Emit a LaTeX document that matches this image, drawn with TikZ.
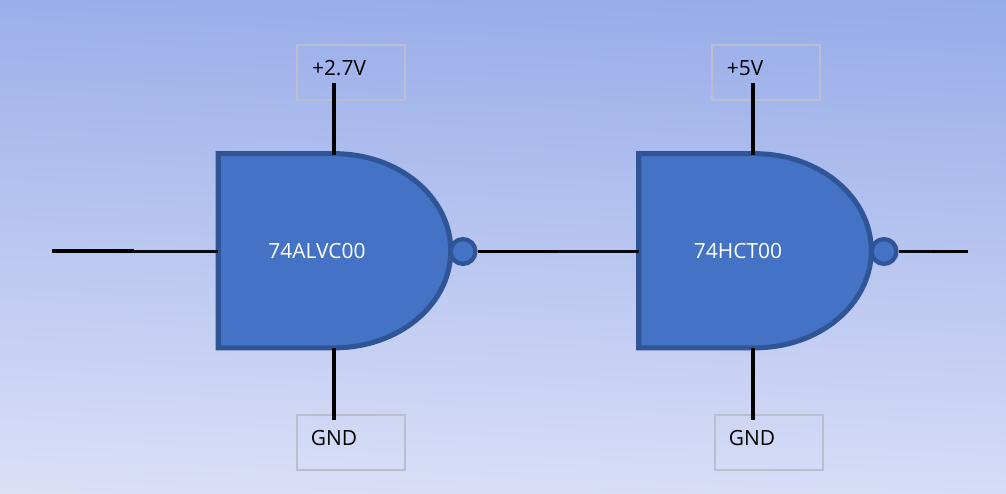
\documentclass[tikz,border=0pt]{standalone}
\usepackage{fontspec}
\setmainfont{Open Sans}
\definecolor{gatefill}{HTML}{4472C4}
\definecolor{gateline}{HTML}{2F5597}
\definecolor{boxline}{HTML}{B9BFCF}
\definecolor{bgtop}{HTML}{96ABE9}
\definecolor{bgbot}{HTML}{DBE0F7}
\tikzset{
  px/.style={x=0.75pt,y=-0.75pt},
  gateframe/.style={draw=none,fill=none,inner sep=0pt,minimum width=174pt,minimum height=145.2pt},
  gatebody/.style={draw=gateline,fill=gatefill,line width=3.8pt,line join=miter},
  bubble/.style={circle,draw=gateline,fill=gatefill,line width=3.2pt,minimum size=18.6pt,inner sep=0pt},
  railbox/.style={draw=boxline,line width=1.6pt,fill=none,minimum width=81pt,minimum height=41.25pt,inner sep=0pt},
  wire/.style={draw=black,line width=2.3pt},
  thinwire/.style={draw=black!88!gateline,line width=2.3pt},
  boxtext/.style={font=\fontsize{15.7}{18}\selectfont,text=black,inner sep=0pt},
  gatetext/.style={font=\fontsize{15.7}{18}\selectfont,text=white,inner sep=0pt}
}
\newcommand{\gateshape}[1]{%
  \path[gatebody] (#1.north west) -- (#1.north) 
    .. controls ($(#1.north)+(64,0)$) and (#1.east |- {$(#1.center)+(0,-54)$}) .. (#1.east)
    .. controls (#1.east |- {$(#1.center)+(0,54)$}) and ($(#1.south)+(64,0)$) .. (#1.south)
    -- (#1.south west) -- cycle;}
\usetikzlibrary{calc}
\begin{document}
\begin{tikzpicture}[px]
\useasboundingbox (0,0) rectangle (1006,493);
\shade[top color=bgtop,bottom color=bgbot,shading angle=-2] (-30,-10) rectangle (1036,503);
% gates
\node[gateframe] (g1) at (334.5,250.75) {};
\node[gateframe] (g2) at (755,250.75) {};
\gateshape{g1}
\gateshape{g2}
\node[bubble] (b1) at (463,251.5) {};
\node[bubble] (b2) at (884,251.5) {};
% text
\node[railbox] (v1) at (351,72.5) {};
\node[railbox] (v2) at (766,72.5) {};
\node[railbox] (g3) at (351,442.5) {};
\node[railbox] (g4) at (769,442.5) {};
\node[boxtext] (tv1) at (339,68) {+2.7V};
\node[boxtext] (tv2) at (745,68) {+5V};
\node[boxtext] (tg1) at (334,438) {GND};
\node[boxtext] (tg2) at (752,438) {GND};
\node[gatetext] (t1) at (317,251) {74ALVC00};
\node[gatetext] (t2) at (738,251) {74HCT00};
% free ends and joints
\coordinate (in) at (52,251);
\coordinate (j1) at (134,251);
\coordinate (j2) at (557,251.5);
\coordinate (j3) at (932,251.5);
\coordinate (out) at (968,251.5);
\coordinate (p1) at (334,83);
\coordinate (p2) at (753,83);
\coordinate (p3) at (334,420);
\coordinate (p4) at (753,420);
% wires
\draw[wire] (in) -- (j1);
\draw[thinwire] (134,251.8) -- (g1.west |- 0,251.8);
\draw[wire] (b1.east) -- (j2);
\draw[thinwire] (557,251.8) -- (g2.west |- 0,251.8);
\draw[thinwire] (b2.east) -- (j3);
\draw[wire] (j3) -- (out);
\draw[wire] (p1) -- (334,155);
\draw[wire] (p2) -- (753,155);
\draw[wire] (p3) -- (334,348);
\draw[wire] (p4) -- (753,348);
\end{tikzpicture}
\end{document}
